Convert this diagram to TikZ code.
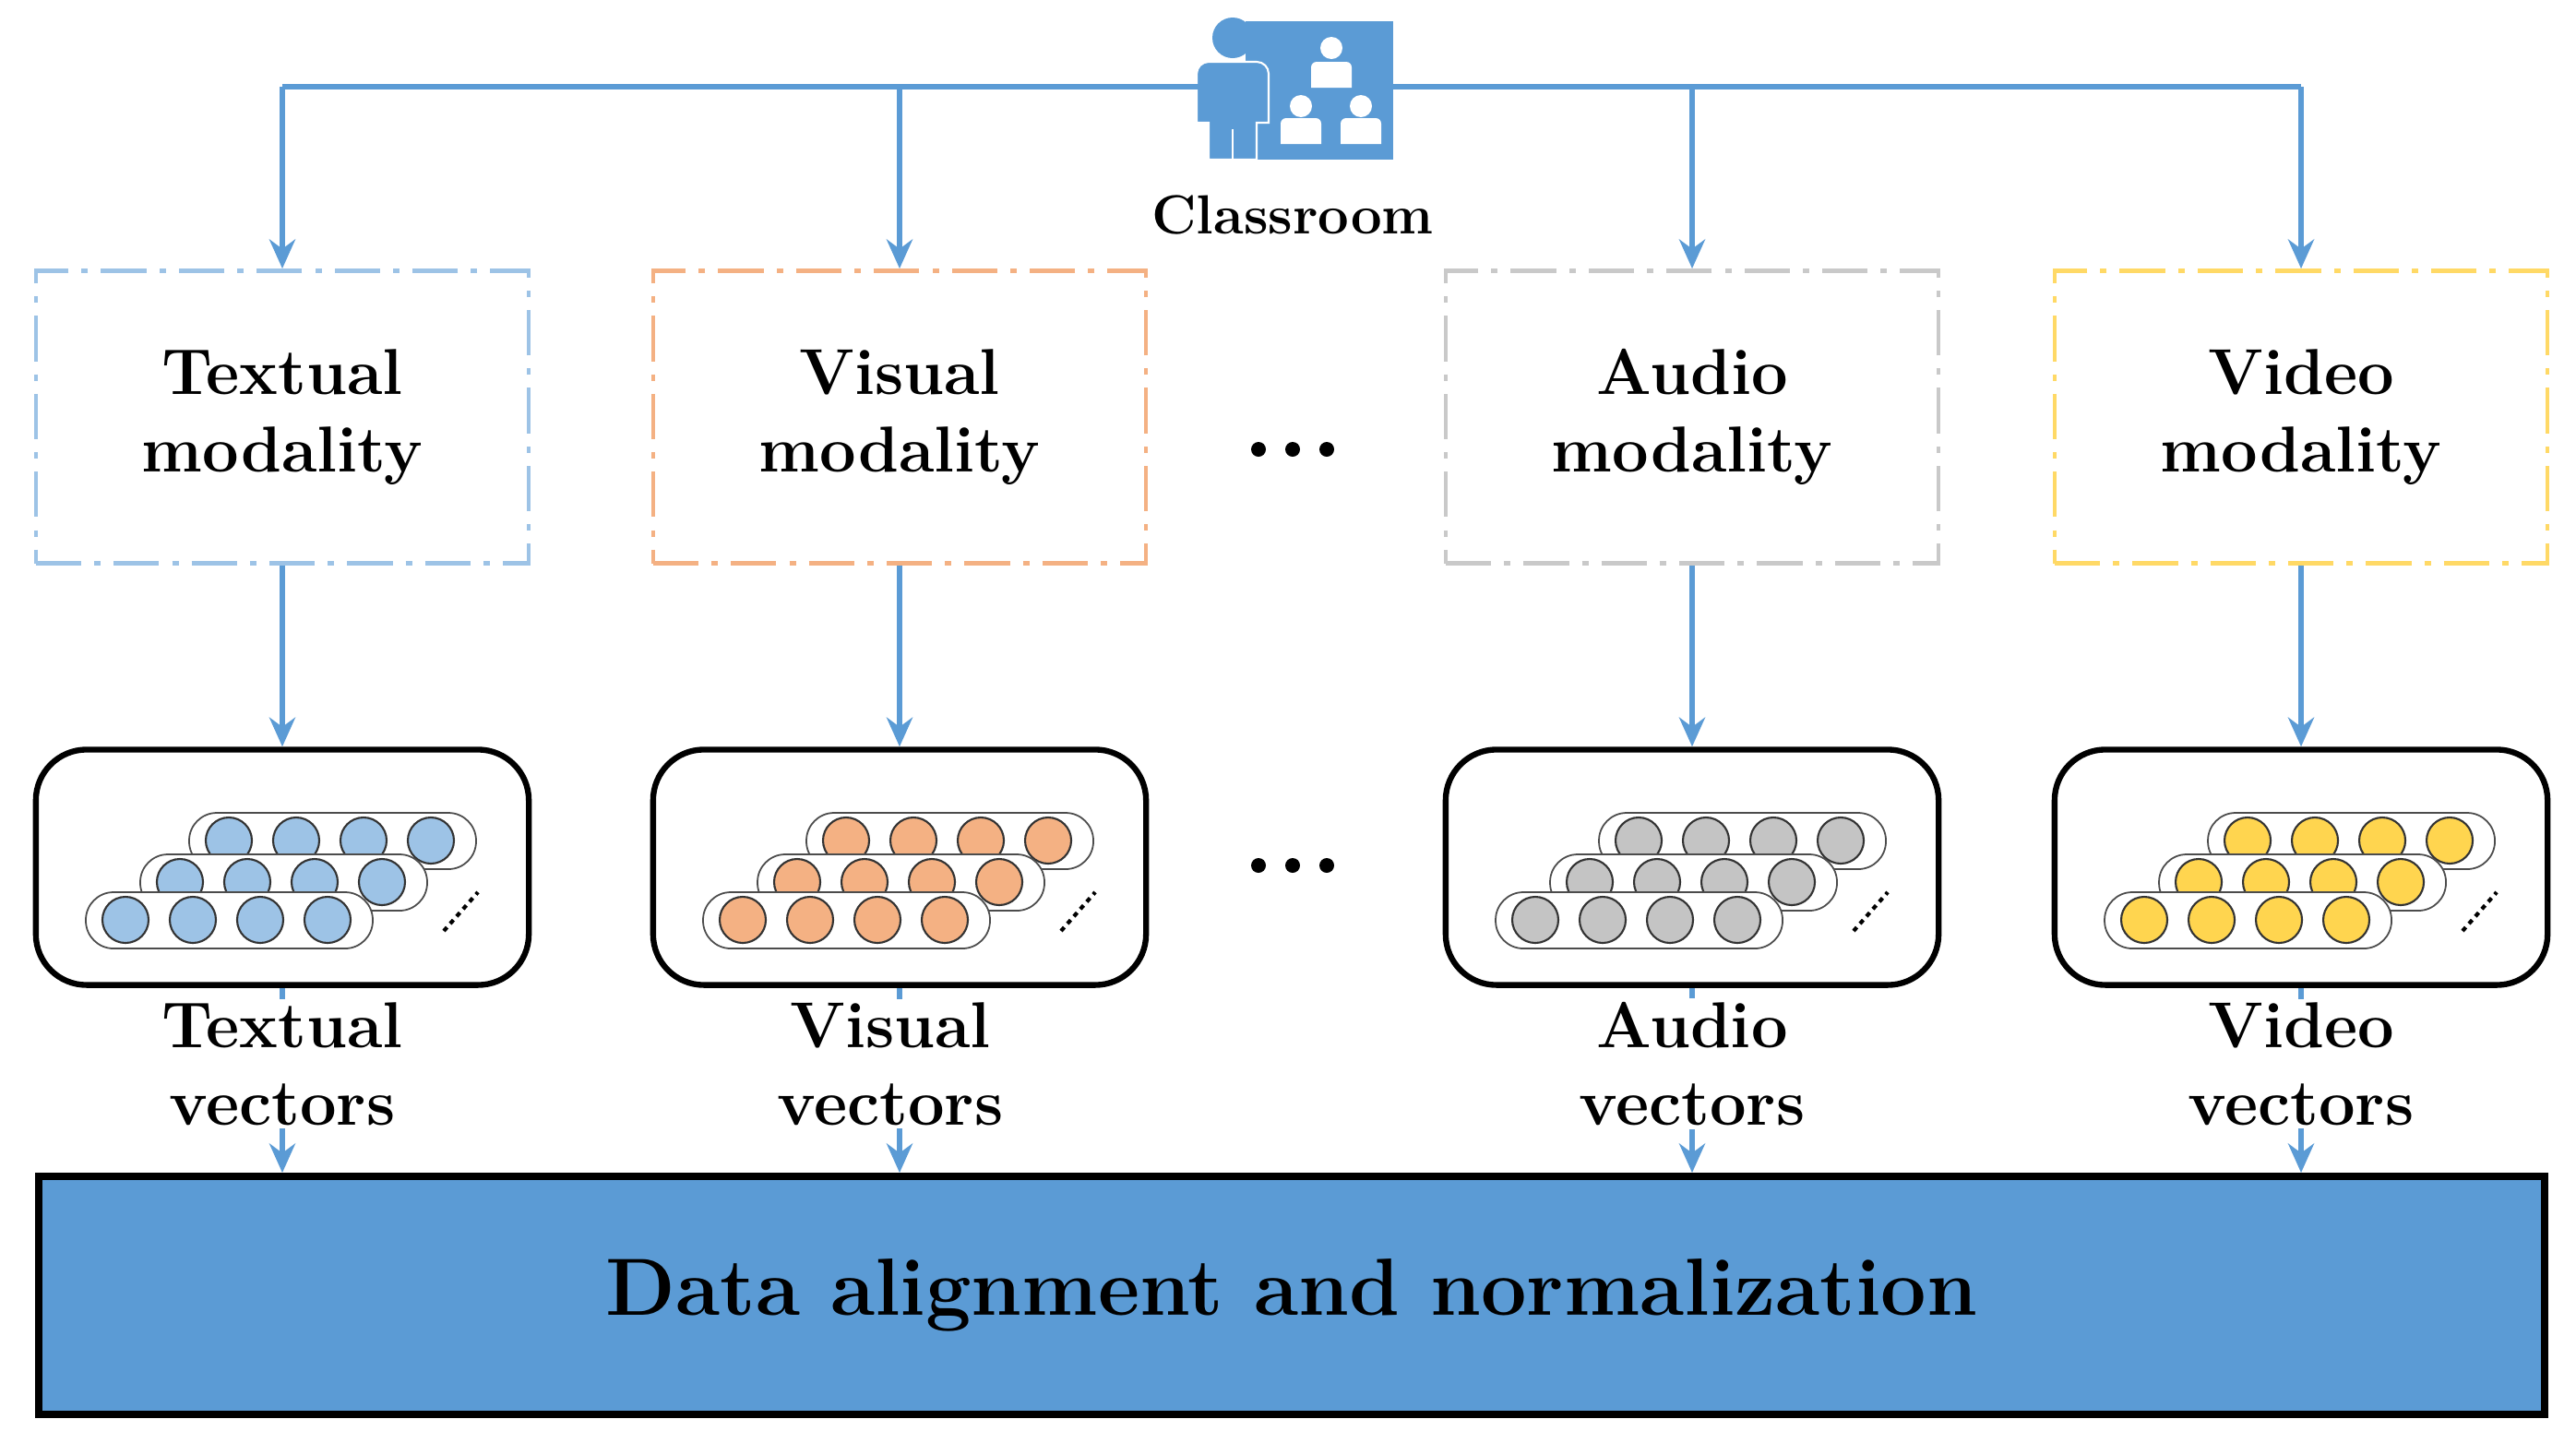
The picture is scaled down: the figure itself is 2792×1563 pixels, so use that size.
\documentclass[tikz,border=0pt]{standalone}
\usetikzlibrary{arrows.meta}
\definecolor{ablue}{HTML}{5B9BD5}
\definecolor{cT}{HTML}{9DC3E6}\definecolor{cV}{HTML}{F4B183}
\definecolor{cA}{HTML}{C9C9C9}\definecolor{cD}{HTML}{FFD966}
\definecolor{fT}{HTML}{9DC3E6}\definecolor{fV}{HTML}{F4B183}
\definecolor{fA}{HTML}{C4C4C4}\definecolor{fD}{HTML}{FFD54F}
\tikzset{
 arr/.style={draw=ablue,line width=1.6pt,-{Stealth[length=9pt,width=8pt]}},
 mod/.style={draw=#1,line width=1.3pt,dash pattern=on 14pt off 4pt on 2pt off 4pt,minimum width=5.34cm,minimum height=3.17cm,align=center,font=\fontsize{20}{24}\selectfont\bfseries},
 vec/.style={draw=black,line width=1.8pt,rounded corners=0.55cm,minimum width=5.34cm,minimum height=2.55cm},
 lab/.style={fill=white,inner sep=1pt,align=center,font=\fontsize{20}{24}\selectfont\bfseries},
 pill/.style={draw=black!70,fill=white,line width=0.5pt,rounded corners=0.3cm},
 dot/.style={draw=black!80,line width=0.6pt,fill=#1}
}
\newcommand{\vecicon}[2]{% left x, fill colour
 \foreach \dx/\dy in {112/-86,59/-41,0/0}{
  \draw[pill] (#1+54+\dx,967+\dy) rectangle (#1+365+\dx,1028+\dy);
  \foreach \k in {0,1,2,3}{\draw[dot=#2] (#1+97+\dx+73*\k,997+\dy) circle (25);}
 }
 \draw[line width=1.2pt,dash pattern=on 1.5pt off 1.5pt] (#1+442,1009) -- (#1+479,967);
}
\newcommand{\bigdots}[2]{\foreach \k in {-1,0,1}{\fill (#1+37*\k,#2) circle (8);}}
\begin{document}
\begin{tikzpicture}[x=0.01cm,y=-0.01cm]
\useasboundingbox (0,0) rectangle (2792,1563);
% classroom icon
\fill[ablue] (1350,23) rectangle (1510,173);
\draw[white,line width=0.6pt,fill=ablue] (1297,133) -- (1297,80) arc[start angle=180,end angle=270,radius=13] -- (1362,67) arc[start angle=270,end angle=360,radius=13] -- (1375,133) -- (1362,133) -- (1362,173) -- (1310,173) -- (1310,133) -- cycle;
\fill[ablue] (1336,41) circle (22);
\draw[white,line width=0.4pt] (1336,140) -- (1336,173);
\foreach \cx/\hy/\by in {1443/52/67,1410/115/128,1475/115/128}{
 \fill[white] (\cx,\hy) circle (12);
 \fill[white] (\cx-22,\by+28) -- (\cx-22,\by+6) arc[start angle=180,end angle=270,radius=6] -- (\cx+16,\by) arc[start angle=270,end angle=360,radius=6] -- (\cx+22,\by+28) -- cycle;
}
\node (cls) at (1401,233) {\fontsize{17}{20}\selectfont\bfseries Classroom};
\coordinate (top) at (1401,94);
% columns
\node[mod=cT] (mT) at (306,452) {Textual\\modality};
\node[mod=cV] (mV) at (975,452) {Visual\\modality};
\node[mod=cA] (mA) at (1834,452) {Audio\\modality};
\node[mod=cD] (mD) at (2494,452) {Video\\modality};
\node[vec] (vT) at (306,940) {};
\node[vec] (vV) at (975,940) {};
\node[vec] (vA) at (1834,940) {};
\node[vec] (vD) at (2494,940) {};
\vecicon{39}{fT}\vecicon{708}{fV}\vecicon{1567}{fA}\vecicon{2227}{fD}
\bigdots{1401}{487}
\bigdots{1401}{938}
\node[draw=black,line width=2.2pt,fill=ablue,minimum width=27.14cm,minimum height=2.58cm,font=\fontsize{25}{30}\selectfont\bfseries] (big) at (1400,1404) {Data alignment and normalization};
% connectors
\draw[ablue,line width=1.6pt] (mT.north |- top) -- (1350,94);
\draw[ablue,line width=1.6pt] (1510,94) -- (mD.north |- top);
\foreach \c in {T,V,A,D}{
 \draw[arr] (m\c.north |- top) -- (m\c.north);
 \draw[arr] (m\c.south) -- (v\c.north);
 \draw[arr] (v\c.south) -- (v\c.south |- big.north);
}
\node[lab] at (306,1153) {Textual\\vectors};
\node[lab] at (965,1153) {Visual\\vectors};
\node[lab] at (1834,1153) {Audio\\vectors};
\node[lab] at (2494,1153) {Video\\vectors};
\end{tikzpicture}
\end{document}
